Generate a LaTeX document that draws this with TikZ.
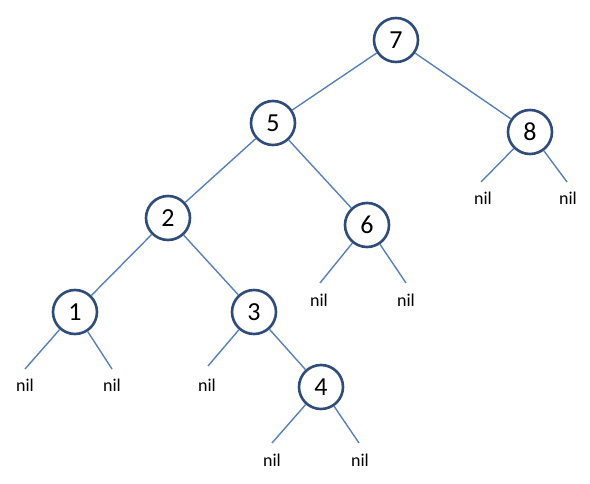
\documentclass[tikz,border=0pt]{standalone}
\usepackage{fontspec}
\setmainfont{Carlito}
\definecolor{ringc}{RGB}{47,75,122}
\definecolor{edgec}{RGB}{88,128,182}
\begin{document}
\begin{tikzpicture}[x=1pt,y=-1pt,
  tnode/.style={circle,draw=ringc,line width=2.6pt,minimum size=44pt,inner sep=0pt,fill=white,font=\fontsize{26}{26}\selectfont},
  nillab/.style={font=\fontsize{18}{18}\selectfont,inner sep=0pt},
  edge/.style={draw=edgec,line width=1.4pt}]
\useasboundingbox (0,0) rectangle (590,484);
\node[tnode] (n7) at (396,40) {7};
\node[tnode] (n5) at (273,123) {5};
\node[tnode] (n8) at (530,132) {8};
\node[tnode] (n2) at (168,218) {2};
\node[tnode] (n6) at (367,225) {6};
\node[tnode] (n1) at (75,312) {1};
\node[tnode] (n3) at (254,312) {3};
\node[tnode] (n4) at (321,387) {4};
% nil endpoints
\coordinate (e8l) at (481,182);
\coordinate (e8r) at (567,182);
\coordinate (e6l) at (320,283);
\coordinate (e6r) at (406,283);
\coordinate (e1l) at (25,369);
\coordinate (e1r) at (112,369);
\coordinate (e3l) at (208,366);
\coordinate (e4l) at (272,443);
\coordinate (e4r) at (359,443);
\node[nillab] (l8l) at (483,198) {nil};
\node[nillab] (l8r) at (568,198) {nil};
\node[nillab] (l6l) at (319,300) {nil};
\node[nillab] (l6r) at (406,300) {nil};
\node[nillab] (l1l) at (25,385) {nil};
\node[nillab] (l1r) at (112,385) {nil};
\node[nillab] (l3l) at (207,385) {nil};
\node[nillab] (l4l) at (272,460) {nil};
\node[nillab] (l4r) at (360,460) {nil};
\draw[edge] (n7) -- (n5);
\draw[edge] (n7) -- (n8);
\draw[edge] (n5) -- (n2);
\draw[edge] (n5) -- (n6);
\draw[edge] (n2) -- (n1);
\draw[edge] (n2) -- (n3);
\draw[edge] (n3) -- (n4);
\draw[edge] (n8) -- (e8l);
\draw[edge] (n8) -- (e8r);
\draw[edge] (n6) -- (e6l);
\draw[edge] (n6) -- (e6r);
\draw[edge] (n1) -- (e1l);
\draw[edge] (n1) -- (e1r);
\draw[edge] (n3) -- (e3l);
\draw[edge] (n4) -- (e4l);
\draw[edge] (n4) -- (e4r);
\end{tikzpicture}
\end{document}
